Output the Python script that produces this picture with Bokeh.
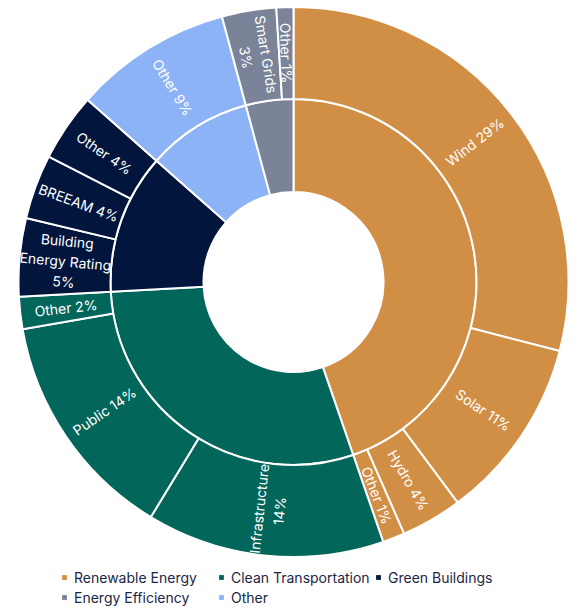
import math
from bokeh.plotting import figure
from bokeh.models import ColumnDataSource, Range1d, Legend, LegendItem
from bokeh.core.properties import value
from bokeh.embed import file_html
from bokeh.resources import INLINE

# ---- data ----
categories = ["Renewable Energy", "Clean Transportation", "Green Buildings", "Other", "Energy Efficiency"]
category_colors = ["#D18F45", "#02665B", "#02153D", "#8DB3F7", "#7A8397"]
legend_order = ["Renewable Energy", "Clean Transportation", "Green Buildings", "Energy Efficiency", "Other"]

sub_parent = ["Renewable Energy", "Renewable Energy", "Renewable Energy", "Renewable Energy",
              "Clean Transportation", "Clean Transportation", "Clean Transportation",
              "Green Buildings", "Green Buildings", "Green Buildings",
              "Other",
              "Energy Efficiency", "Energy Efficiency"]
sub_names = ["Wind", "Solar", "Hydro", "Other",
             "Infrastructure", "Public", "Other",
             "Building Energy Rating", "BREEAM", "Other",
             "Other",
             "Smart Grids", "Other"]
sub_values = [29.1, 10.8, 3.6, 1.3,
              14.0, 13.6, 1.9,
              4.6, 3.8, 4.0,
              9.3,
              3.2, 1.0]
wrapped_names = {"Building Energy Rating": "Building\nEnergy Rating",
                 "Infrastructure": "Infrastructure",
                 "Smart Grids": "Smart Grids"}

R0, R1, R2 = 90, 183, 275

total = sum(sub_values)
cat_values = [sum(v for v, p in zip(sub_values, sub_parent) if p == c) for c in categories]
color_of = dict(zip(categories, category_colors))

def to_bokeh(theta_cw_deg):
    return math.radians(90 - theta_cw_deg)

# inner ring
inner = dict(start=[], end=[], color=[])
acc = 0.0
for c, v in zip(categories, cat_values):
    a0 = acc / total * 360
    acc += v
    a1 = acc / total * 360
    inner["start"].append(to_bokeh(a0))
    inner["end"].append(to_bokeh(a1))
    inner["color"].append(color_of[c])

# outer ring
outer = dict(start=[], end=[], color=[], lx=[], ly=[], ang=[], text=[])
acc = 0.0
rmid = (R1 + R2) / 2
for n, p, v in zip(sub_names, sub_parent, sub_values):
    a0 = acc / total * 360
    acc += v
    a1 = acc / total * 360
    outer["start"].append(to_bokeh(a0))
    outer["end"].append(to_bokeh(a1))
    outer["color"].append(color_of[p])
    am = to_bokeh((a0 + a1) / 2)
    outer["lx"].append(rmid * math.cos(am))
    outer["ly"].append(rmid * math.sin(am))
    rot = am if math.cos(am) >= 0 else am + math.pi
    outer["ang"].append(rot)
    pct = round(v / total * 100)
    if n in wrapped_names:
        outer["text"].append(f"{wrapped_names[n]}\n{pct}%")
    else:
        outer["text"].append(f"{n} {pct}%")

W, H = 575, 610
cx_px, cy_px = 293, 281.5
p = figure(width=W, height=H, output_backend="svg", toolbar_location=None,
           x_range=Range1d(-cx_px, W - cx_px), y_range=Range1d(cy_px - H, cy_px),
           min_border=0)
p.axis.visible = False
p.grid.visible = False
p.outline_line_color = None
p.background_fill_color = "white"
p.border_fill_color = "white"

p.annular_wedge(x=0, y=0, inner_radius=R0, outer_radius=R1, start_angle="start", end_angle="end",
                direction="clock", fill_color="color", line_color="white", line_width=2,
                source=ColumnDataSource(inner))
p.annular_wedge(x=0, y=0, inner_radius=R1, outer_radius=R2, start_angle="start", end_angle="end",
                direction="clock", fill_color="color", line_color="white", line_width=2,
                source=ColumnDataSource(outer))
p.text(x="lx", y="ly", text="text", angle="ang", source=ColumnDataSource(outer),
       text_align="center", text_baseline="middle", text_color="white",
       text_font=value("Inter"), text_font_size="14px", text_line_height=1.2)

items = []
for c in legend_order:
    r = p.quad(left=[5000], right=[5001], top=[5001], bottom=[5000],
               fill_color=color_of[c], line_color=None)
    items.append(LegendItem(label=c, renderers=[r]))

legend = Legend(items=items, orientation="horizontal", ncols=3, location=(61, 3),
                glyph_width=6, glyph_height=6, label_standoff=7, spacing=0,
                label_width=144, label_height=20, padding=0, margin=0,
                border_line_color=None, background_fill_alpha=0,
                label_text_font="Inter", label_text_font_size="14px",
                label_text_color="#1c2646")
p.add_layout(legend, "center")

open("out.html", "w").write(file_html(p, INLINE))
